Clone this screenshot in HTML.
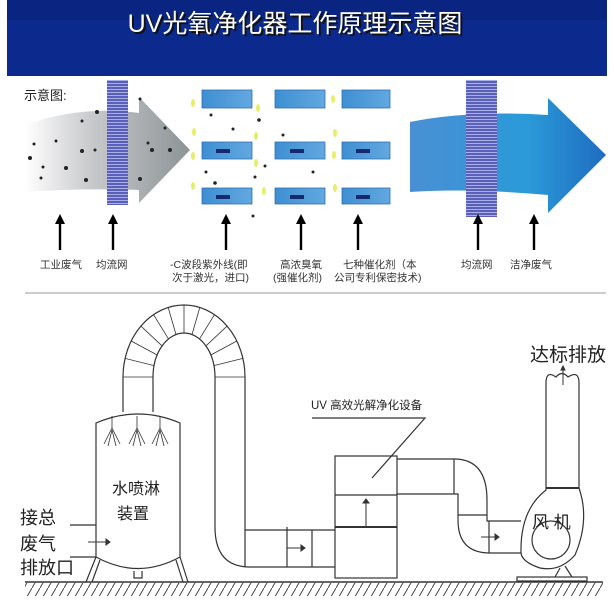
<!DOCTYPE html>
<html><head><meta charset="utf-8"><style>
html,body{margin:0;padding:0;background:#fff;}
svg{display:block;}
text{font-family:"Liberation Sans","Noto Sans CJK SC",sans-serif;}
</style></head><body>
<svg width="614" height="603" viewBox="0 0 614 603" xmlns="http://www.w3.org/2000/svg">
<defs>
<linearGradient id="gg" x1="0" x2="1" y1="0" y2="0">
<stop offset="0" stop-color="#fff"/><stop offset="0.4" stop-color="#c8c9cc"/><stop offset="1" stop-color="#8c9496"/>
</linearGradient>
<linearGradient id="bg" x1="0" x2="1" y1="0" y2="0">
<stop offset="0" stop-color="#4a8fd4"/><stop offset="0.6" stop-color="#2a9ad8"/><stop offset="1" stop-color="#1f6cc0"/>
</linearGradient>
<linearGradient id="pg" x1="0" x2="1"><stop offset="0" stop-color="#3e8fd2"/><stop offset="1" stop-color="#62a8e0"/></linearGradient>
<pattern id="mesh" width="4" height="3" patternUnits="userSpaceOnUse">
<rect width="4" height="3" fill="#5b5fb8"/><rect y="2" width="4" height="1" fill="#a8b0ea"/>
</pattern>
<pattern id="hatch" width="8" height="14" patternUnits="userSpaceOnUse">
<line x1="0" y1="14" x2="8" y2="0" stroke="#444" stroke-width="1"/>
</pattern>
</defs>

<rect x="7" y="0" width="600" height="76" fill="#0c2a8e"/>
<rect x="7" y="0" width="600" height="20" fill="#0a2482"/>
<text x="297" y="34" font-size="25" text-anchor="middle" fill="#111" font-family="Liberation Serif,Noto Serif CJK SC,serif">UV光氧净化器工作原理示意图</text>
<text x="295" y="32" font-size="25" text-anchor="middle" fill="#fff" font-family="Liberation Serif,Noto Serif CJK SC,serif">UV光氧净化器工作原理示意图</text>

<text x="24" y="100" font-size="13" fill="#222">示意图:</text>

<path d="M25,125 Q80,105 139,113 L139,97 L190,150 L139,203 L139,190 Q80,188 25,192 Z" fill="url(#gg)"/>
<g fill="#222">
<circle cx="34" cy="144" r="1.5"/><circle cx="30" cy="158" r="2"/><circle cx="43" cy="167" r="1.5"/><circle cx="41" cy="178" r="1.5"/><circle cx="56" cy="141" r="1.5"/><circle cx="66" cy="168" r="2"/><circle cx="82" cy="151" r="2"/><circle cx="86" cy="180" r="2"/><circle cx="95" cy="150" r="1.5"/><circle cx="97" cy="112" r="2"/><circle cx="140" cy="99" r="1.5"/><circle cx="148" cy="143" r="1.5"/><circle cx="152" cy="150" r="2"/><circle cx="170" cy="150" r="2"/><circle cx="140" cy="179" r="2"/><circle cx="165" cy="128" r="1.5"/><circle cx="82" cy="121" r="1.5"/>
</g>
<rect x="107" y="80" width="21" height="125" fill="url(#mesh)"/>

<g fill="url(#pg)" stroke="#2f70b5" stroke-width="0.8">
<rect x="202" y="90" width="50" height="18"/><rect x="275" y="90" width="50" height="18"/><rect x="342" y="90" width="48" height="18"/>
<rect x="202" y="142" width="50" height="17"/><rect x="275" y="142" width="50" height="17"/><rect x="342" y="142" width="48" height="17"/>
<rect x="202" y="188" width="50" height="16"/><rect x="275" y="188" width="50" height="16"/><rect x="342" y="188" width="48" height="16"/>
</g>
<g fill="#152a6e">
<rect x="216" y="149" width="14" height="4"/><rect x="290" y="149" width="14" height="4"/><rect x="356" y="149" width="14" height="4"/>
<rect x="216" y="195" width="14" height="4"/><rect x="290" y="195" width="14" height="4"/><rect x="356" y="195" width="14" height="4"/>
</g>
<g fill="#e6ef6a">
<ellipse cx="193" cy="103" rx="2" ry="4"/><ellipse cx="194" cy="132" rx="2" ry="4"/><ellipse cx="193" cy="156" rx="2" ry="4"/><ellipse cx="193" cy="186" rx="2" ry="4"/>
<ellipse cx="258" cy="108" rx="2" ry="4"/><ellipse cx="256" cy="136" rx="2" ry="4"/><ellipse cx="256" cy="163" rx="2" ry="4"/><ellipse cx="264" cy="191" rx="2" ry="4"/>
<ellipse cx="333" cy="99" rx="2" ry="4"/><ellipse cx="335" cy="133" rx="2" ry="4"/><ellipse cx="334" cy="155" rx="2" ry="4"/><ellipse cx="335" cy="188" rx="2" ry="4"/>
</g>
<g fill="#222">
<circle cx="211" cy="115" r="1.5"/><circle cx="233" cy="129" r="1.5"/><circle cx="259" cy="120" r="1.8"/><circle cx="283" cy="135" r="1.5"/><circle cx="206" cy="172" r="1.5"/><circle cx="215" cy="183" r="1.8"/><circle cx="255" cy="177" r="1.5"/><circle cx="265" cy="166" r="1.5"/><circle cx="313" cy="172" r="1.5"/><circle cx="253" cy="216" r="1.5"/>
</g>

<path d="M410,122 Q470,110 548,115 L548,98 L606,155 L548,213 L548,195 Q470,188 410,192 Z" fill="url(#bg)"/>
<rect x="466" y="80" width="31" height="137" fill="url(#mesh)"/>

<g stroke="#000" stroke-width="2.4">
<line x1="60" y1="250" x2="60" y2="222"/><line x1="113" y1="250" x2="113" y2="222"/><line x1="226" y1="250" x2="226" y2="222"/><line x1="301" y1="250" x2="301" y2="222"/><line x1="358" y1="250" x2="358" y2="222"/><line x1="478" y1="250" x2="478" y2="222"/><line x1="534" y1="250" x2="534" y2="222"/>
</g>
<g fill="#000">
<path d="M55,224 L60,214 L65,224Z"/><path d="M108,224 L113,214 L118,224Z"/><path d="M221,224 L226,214 L231,224Z"/><path d="M296,224 L301,214 L306,224Z"/><path d="M353,224 L358,214 L363,224Z"/><path d="M473,224 L478,214 L483,224Z"/><path d="M529,224 L534,214 L539,224Z"/>
</g>
<g font-size="10.5" fill="#333">
<text x="40" y="268">工业废气</text><text x="96" y="268">均流网</text>
<text x="170" y="268">-C波段紫外线(即</text><text x="172" y="281">次于激光，进口)</text>
<text x="280" y="268">高浓臭氧</text><text x="273" y="281">(强催化剂)</text>
<text x="343" y="268">七种催化剂（本</text><text x="334" y="281">公司专利保密技术)</text>
<text x="461" y="268">均流网</text><text x="510" y="268">洁净废气</text>
</g>
<line x1="25" y1="293" x2="606" y2="293" stroke="#bbb" stroke-width="1.5"/>

<g fill="none" stroke="#333" stroke-width="1.2">
<path d="M123,412 L123,377 A61,72 0 0 1 245,377 L245,530 L335,530"/>
<path d="M153,412 L153,377 A31,44 0 0 1 215,377 L215,527 Q215,567 250,567 L335,567"/>
<g stroke-width="0.8">
<line x1="123" y1="377" x2="153" y2="377"/><line x1="215" y1="377" x2="245" y2="377"/>
<line x1="154.1" y1="365.6" x2="125.1" y2="358.4"/>
<line x1="157.2" y1="355" x2="131.2" y2="341"/>
<line x1="162.1" y1="345.9" x2="140.9" y2="326.1"/>
<line x1="168.5" y1="338.9" x2="153.5" y2="314.6"/>
<line x1="176" y1="334.5" x2="168.2" y2="307.5"/>
<line x1="184" y1="333" x2="184" y2="305"/>
<line x1="192" y1="334.5" x2="199.8" y2="307.5"/>
<line x1="199.5" y1="338.9" x2="214.5" y2="314.6"/>
<line x1="205.9" y1="345.9" x2="227.1" y2="326.1"/>
<line x1="210.8" y1="355" x2="236.8" y2="341"/>
<line x1="213.9" y1="365.6" x2="242.9" y2="358.4"/>
</g>
<path d="M96,557 L96,423 Q138,405 180,423 L180,557 Q138,580 96,557 Z"/>
<path d="M96,557 L86,582 M180,557 L188,582 M100,560 L92,582 M176,560 L183,582"/>
<path d="M134,571 L134,578 L142,578 L142,571"/>
<path d="M70,525 L96,525 M70,557 L96,557"/>
<g stroke-width="0.8">
<path d="M112,416 L112,428 M104,444 L112,428 L120,444 M108,446 L112,430 L116,446"/>
<path d="M137,416 L137,428 M129,444 L137,428 L145,444 M133,446 L137,430 L141,446"/>
<path d="M160,416 L160,428 M152,444 L160,428 L168,444 M156,446 L160,430 L164,446"/>
</g>
<line x1="245" y1="530" x2="245" y2="567"/><line x1="287" y1="527" x2="287" y2="567"/><line x1="312" y1="530" x2="312" y2="567"/>
<rect x="335" y="456" width="62" height="122"/>
<line x1="335" y1="495" x2="397" y2="495"/>
<line x1="335" y1="527" x2="397" y2="527" stroke-width="2"/>
<path d="M397,459 L454,459 Q487,459 487,500 L487,521 L521,521"/>
<path d="M397,494 L454,494 L458,494 L458,520 Q458,553 490,553 L521,553"/>
<line x1="454" y1="459" x2="454" y2="494"/><line x1="458" y1="515" x2="487" y2="515"/><line x1="489" y1="521" x2="489" y2="553"/>
<path d="M521,553 Q520,510 546,490 L546,383 M579,383 L579,488 Q590,520 575,555 Q560,572 540,568 Q522,562 521,553"/>
<line x1="546" y1="488" x2="579" y2="488" stroke-width="2"/>
<circle cx="551" cy="540" r="19"/>
<path d="M560,568 L555,577 M565,566 L572,577"/>
<rect x="517" y="577" width="70" height="4"/>
<path d="M546,383 Q546,370 556,377 Q562,370 568,377 Q579,370 579,383" />
<path d="M312,418 L425,418 L372,478"/>
</g>
<g stroke="#333" stroke-width="1" fill="#333">
<path d="M88,542 L106,542" /><path d="M106,539 L110,542 L106,545 Z"/>
<path d="M287,548 L301,548"/><path d="M301,545 L305,548 L301,551 Z"/>
<path d="M481,537 L495,537"/><path d="M495,534 L499,537 L495,540 Z"/>
<path d="M366,526 L366,503"/><path d="M363,503 L366,499 L369,503 Z"/>
<path d="M563,385 L563,368"/><path d="M561,370 L563,366 L565,370 Z"/>
</g>
<line x1="25" y1="582" x2="603" y2="582" stroke="#333" stroke-width="1.5"/>
<rect x="25" y="583" width="578" height="13" fill="url(#hatch)"/>
<g fill="#222">
<text x="530" y="361" font-size="19">达标排放</text>
<text x="311" y="409" font-size="11.5">UV 高效光解净化设备</text>
<text x="112" y="494" font-size="16">水喷淋</text>
<text x="117" y="519" font-size="16">装置</text>
<text x="20" y="524" font-size="18">接总</text>
<text x="20" y="550" font-size="18">废气</text>
<text x="20" y="574" font-size="18">排放口</text>
<text x="532" y="528" font-size="17">风 机</text>
</g>
</svg>
</body></html>
